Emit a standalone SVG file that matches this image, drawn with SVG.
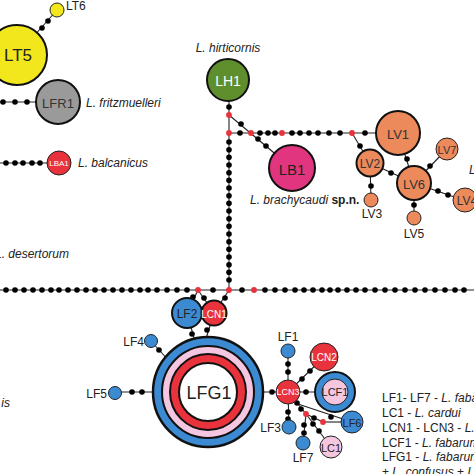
<svg xmlns="http://www.w3.org/2000/svg" width="474" height="474" viewBox="0 0 474 474">
<style>
.ln{stroke:#222;stroke-width:1.1;fill:none}
.d{fill:#000}
.r{fill:#e8323c}
.n{stroke:#111;stroke-width:2}
.s{stroke:#222;stroke-width:1}
.t{font-family:"Liberation Sans",Arial,sans-serif;text-anchor:middle;dominant-baseline:central}
.lab{font-family:"Liberation Sans",Arial,sans-serif;font-size:12px;fill:#222}
.it{font-style:italic}
.y{fill:#f2e71c}.g{fill:#9a9a9a}.rd{fill:#e8323c}.gr{fill:#5e8f2c}.mg{fill:#e2357f}.o{fill:#ec8a5c}.b{fill:#3b8ad2}.p{fill:#f5c6df}.w{fill:#fff}
</style>
<defs>
<circle id="dt" r="2.8" class="d"/>
<circle id="rt" r="2.9" class="r"/>
</defs>

<g id="connectors">
<line class="ln" x1="57" y1="10" x2="17" y2="55"/>
<line class="ln" x1="5" y1="73" x2="-4" y2="81" style="stroke:#3b8ad2"/>
<line class="ln" x1="0" y1="102" x2="40" y2="102"/>
<line class="ln" x1="0" y1="163" x2="50" y2="163"/>
<line class="ln" x1="0" y1="290" x2="474" y2="290"/>
<line class="ln" x1="229" y1="100" x2="229" y2="290"/>
<line class="ln" x1="229" y1="133" x2="378" y2="133"/>
<line class="ln" x1="229" y1="115" x2="292" y2="168"/>
<line class="ln" x1="352" y1="133" x2="370" y2="163"/>
<line class="ln" x1="370" y1="163" x2="371" y2="200"/>
<line class="ln" x1="370" y1="163" x2="414" y2="183"/>
<line class="ln" x1="398" y1="133" x2="414" y2="183"/>
<line class="ln" x1="414" y1="183" x2="447" y2="149"/>
<line class="ln" x1="414" y1="183" x2="414" y2="218"/>
<line class="ln" x1="414" y1="183" x2="463" y2="200"/>
<line class="ln" x1="198" y1="290" x2="187" y2="313"/>
<line class="ln" x1="198" y1="290" x2="214" y2="313"/>
<line class="ln" x1="229" y1="290" x2="214" y2="313"/>
<line class="ln" x1="187" y1="313" x2="196" y2="345"/>
<line class="ln" x1="214" y1="313" x2="204" y2="345"/>
<line class="ln" x1="151" y1="341" x2="170" y2="362"/>
<line class="ln" x1="115" y1="392" x2="155" y2="392"/>
<line class="ln" x1="262" y1="392" x2="335" y2="392"/>
<line class="ln" x1="288" y1="392" x2="288" y2="351"/>
<line class="ln" x1="288" y1="392" x2="324" y2="357"/>
<line class="ln" x1="288" y1="392" x2="289" y2="427"/>
<line class="ln" x1="288" y1="392" x2="306" y2="414"/>
<line class="ln" x1="306" y1="414" x2="303" y2="443"/>
<line class="ln" x1="306" y1="414" x2="331" y2="447"/>
<line class="ln" x1="306" y1="414" x2="323" y2="422"/>
<line class="ln" x1="323" y1="422" x2="352" y2="422"/>
<line class="ln" x1="298" y1="404" x2="352" y2="422"/>

<use href="#dt" x="48" y="21"/><use href="#dt" x="42" y="28"/>
<use href="#dt" x="3" y="102"/><use href="#dt" x="15" y="102"/><use href="#dt" x="27" y="102"/>
<use href="#dt" x="6" y="163"/><use href="#dt" x="15" y="163"/><use href="#dt" x="23" y="163"/><use href="#dt" x="32" y="163"/><use href="#dt" x="40" y="163"/>
<use href="#dt" x="6" y="290"/><use href="#dt" x="15" y="290"/><use href="#dt" x="24" y="290"/><use href="#dt" x="33" y="290"/><use href="#dt" x="42" y="290"/><use href="#dt" x="51" y="290"/><use href="#dt" x="59" y="290"/><use href="#dt" x="68" y="290"/><use href="#dt" x="77" y="290"/><use href="#dt" x="86" y="290"/><use href="#dt" x="95" y="290"/><use href="#dt" x="104" y="290"/><use href="#dt" x="113" y="290"/><use href="#dt" x="122" y="290"/><use href="#dt" x="131" y="290"/><use href="#dt" x="140" y="290"/><use href="#dt" x="148" y="290"/><use href="#dt" x="157" y="290"/><use href="#dt" x="167" y="290"/><use href="#dt" x="177" y="290"/><use href="#dt" x="187" y="290"/>
<use href="#rt" x="198" y="290"/>
<use href="#dt" x="213" y="290"/>
<use href="#rt" x="229" y="290"/>
<use href="#dt" x="242" y="290"/>
<use href="#rt" x="254" y="290"/>
<use href="#dt" x="265" y="290"/><use href="#dt" x="275" y="290"/><use href="#dt" x="285" y="290"/><use href="#dt" x="295" y="290"/><use href="#dt" x="304" y="290"/><use href="#dt" x="313" y="290"/><use href="#dt" x="322" y="290"/><use href="#dt" x="330" y="290"/><use href="#dt" x="338" y="290"/><use href="#dt" x="347" y="290"/><use href="#dt" x="356" y="290"/><use href="#dt" x="365" y="290"/><use href="#dt" x="375" y="290"/><use href="#dt" x="385" y="290"/><use href="#dt" x="395" y="290"/><use href="#dt" x="405" y="290"/><use href="#dt" x="415" y="290"/><use href="#dt" x="425" y="290"/><use href="#dt" x="435" y="290"/><use href="#dt" x="445" y="290"/><use href="#dt" x="455" y="290"/><use href="#dt" x="464" y="290"/>
<use href="#dt" x="229" y="107"/>
<use href="#rt" x="229" y="115"/>
<use href="#rt" x="229" y="133"/>
<use href="#dt" x="229" y="142"/><use href="#dt" x="229" y="149.7"/><use href="#dt" x="229" y="157.3"/><use href="#dt" x="229" y="165"/><use href="#dt" x="229" y="172.7"/><use href="#dt" x="229" y="180.3"/><use href="#dt" x="229" y="188"/><use href="#dt" x="229" y="195.7"/><use href="#dt" x="229" y="203.3"/><use href="#dt" x="229" y="211"/><use href="#dt" x="229" y="218.7"/><use href="#dt" x="229" y="226.3"/><use href="#dt" x="229" y="234"/><use href="#dt" x="229" y="241.7"/><use href="#dt" x="229" y="249.3"/><use href="#dt" x="229" y="257"/><use href="#dt" x="229" y="264.7"/><use href="#dt" x="229" y="272.3"/><use href="#dt" x="229" y="280"/>
<use href="#dt" x="240" y="133"/>
<use href="#rt" x="251" y="133"/>
<use href="#dt" x="260" y="133"/><use href="#dt" x="268" y="133"/><use href="#dt" x="275" y="133"/>
<use href="#rt" x="282" y="133"/>
<use href="#dt" x="292" y="133"/><use href="#dt" x="300" y="133"/><use href="#dt" x="309" y="133"/><use href="#dt" x="318" y="133"/><use href="#dt" x="329" y="133"/><use href="#dt" x="340" y="133"/>
<use href="#rt" x="352" y="133"/>
<use href="#dt" x="365" y="133"/>
<use href="#dt" x="241" y="124"/><use href="#dt" x="258" y="139"/><use href="#dt" x="266" y="146"/>
<use href="#dt" x="360" y="146"/>
<use href="#dt" x="371" y="186"/>
<use href="#dt" x="391" y="173"/>
<use href="#dt" x="407" y="159"/>
<use href="#dt" x="430" y="166"/>
<use href="#dt" x="414" y="205"/>
<use href="#dt" x="438" y="191"/><use href="#dt" x="448" y="195"/>
<use href="#dt" x="193" y="297"/>
<use href="#dt" x="204" y="298"/>
<use href="#dt" x="225" y="298"/>
<use href="#dt" x="192" y="334"/>
<use href="#dt" x="207" y="330"/>
<use href="#dt" x="159" y="350"/>
<use href="#dt" x="132" y="392"/><use href="#dt" x="142" y="392"/>
<use href="#dt" x="272" y="392"/>
<use href="#dt" x="288" y="364"/><use href="#dt" x="288" y="372"/>
<use href="#dt" x="302" y="379"/><use href="#dt" x="310" y="371"/>
<use href="#dt" x="306" y="392"/>
<use href="#dt" x="288" y="412"/><use href="#dt" x="288" y="419"/>
<use href="#dt" x="297" y="403"/><use href="#dt" x="301" y="409"/>
<use href="#dt" x="304" y="425"/><use href="#dt" x="304" y="433"/>
<use href="#dt" x="313" y="424"/><use href="#dt" x="319" y="431"/>
<use href="#dt" x="314" y="418"/>
<use href="#dt" x="331" y="417"/>
<use href="#rt" x="306" y="414"/>
<use href="#rt" x="323" y="422"/>
</g>

<g id="LT6"><circle cx="57" cy="10" r="7" class="y s"/><text class="lab" x="66" y="10">LT6</text></g>
<g id="LT5"><circle cx="17" cy="55" r="30" class="y n"/><text class="t" x="18" y="55" font-size="17" fill="#222">LT5</text></g>
<g id="LFR1"><circle cx="58" cy="102" r="22" class="g n"/><text class="t" x="58" y="103" font-size="13" fill="#333">LFR1</text><text class="lab it" x="86" y="107">L. fritzmuelleri</text></g>
<g id="LBA1"><circle cx="59" cy="163" r="12" class="rd s"/><text class="t" x="59" y="163" font-size="8" fill="#fff">LBA1</text><text class="lab it" x="78" y="167">L. balcanicus</text></g>
<g id="desertorum"><text class="lab it" x="-5" y="258">L. desertorum</text></g>
<g id="left-is"><text class="lab it" x="10" y="407" text-anchor="end">is</text></g>
<g id="LH1"><circle cx="228" cy="80" r="21" class="gr n"/><text class="t" x="228" y="81" font-size="14" fill="#fff">LH1</text><text class="lab it" x="228" y="52" text-anchor="middle">L. hirticornis</text></g>
<g id="LB1"><circle cx="292" cy="168" r="23" class="mg n"/><text class="t" x="292" y="169" font-size="15" fill="#222">LB1</text><text class="lab" x="250" y="204"><tspan class="it">L. brachycaudi</tspan> <tspan font-weight="bold">sp.n.</tspan></text></g>
<g id="LV1"><circle cx="398" cy="133" r="22" class="o n"/><text class="t" x="398" y="134" font-size="13" fill="#333">LV1</text></g>
<g id="LV2"><circle cx="370" cy="163" r="13.5" class="o n"/><text class="t" x="370" y="164" font-size="12" fill="#333">LV2</text></g>
<g id="LV3"><circle cx="371" cy="200" r="7" class="o s"/><text class="lab" x="372" y="218" text-anchor="middle">LV3</text></g>
<g id="LV6"><circle cx="414" cy="183" r="17" class="o n"/><text class="t" x="414" y="184" font-size="13" fill="#333">LV6</text></g>
<g id="LV5"><circle cx="414" cy="218" r="7" class="o s"/><text class="lab" x="414" y="238" text-anchor="middle">LV5</text></g>
<g id="LV7"><circle cx="447" cy="149" r="11" class="o s"/><text class="t" x="447" y="150" font-size="11" fill="#333">LV7</text></g>
<g id="LV4"><circle cx="465" cy="200" r="12" class="o s"/><text class="t" x="467" y="201" font-size="12" fill="#333">LV4</text></g>
<g id="volkli"><text class="lab it" x="469" y="174">L. volkli</text></g>
<g id="LF2"><circle cx="187" cy="313" r="15" class="b n"/><text class="t" x="187" y="314" font-size="12" fill="#222">LF2</text></g>
<g id="LCN1"><circle cx="214" cy="313" r="12.5" class="rd n"/><text class="t" x="214" y="314" font-size="10" fill="#fff">LCN1</text></g>
<g id="LF4"><circle cx="151" cy="341" r="6.5" class="b s"/><text class="lab" x="144" y="346" text-anchor="end">LF4</text></g>
<g id="LF5"><circle cx="115" cy="393" r="6.5" class="b s"/><text class="lab" x="107" y="398" text-anchor="end">LF5</text></g>
<g id="LFG1">
<circle cx="208" cy="392" r="55" fill="#3b8ad2" stroke="#111" stroke-width="2.5"/>
<circle cx="208" cy="392" r="46" fill="#f5c6df" stroke="#111" stroke-width="2"/>
<circle cx="208" cy="392" r="38" fill="#e8323c" stroke="#111" stroke-width="2"/>
<circle cx="208" cy="392" r="29" fill="#fff" stroke="#111" stroke-width="2"/>
<text class="t" x="209" y="393" font-size="18" fill="#222">LFG1</text>
</g>
<g id="LCN3"><circle cx="288" cy="392" r="12" class="rd s"/><text class="t" x="288" y="392" font-size="9" fill="#fff">LCN3</text></g>
<g id="LF1"><circle cx="288" cy="351" r="7" class="b s"/><text class="lab" x="288" y="341" text-anchor="middle">LF1</text></g>
<g id="LCN2"><circle cx="324" cy="357" r="14" class="rd s"/><text class="t" x="324" y="357" font-size="10" fill="#fff">LCN2</text></g>
<g id="LCF1"><circle cx="335" cy="392" r="20" class="b n"/><circle cx="335" cy="392" r="13" class="p s"/><text class="t" x="335" y="392" font-size="11" fill="#222">LCF1</text></g>
<g id="LF3"><circle cx="289" cy="427" r="7" class="b s"/><text class="lab" x="281" y="432" text-anchor="end">LF3</text></g>
<g id="LF7"><circle cx="303" cy="443" r="7" class="b s"/><text class="lab" x="303" y="462" text-anchor="middle">LF7</text></g>
<g id="LC1"><circle cx="331" cy="447" r="11" class="p s"/><text class="t" x="331" y="448" font-size="11" fill="#222">LC1</text></g>
<g id="LF6"><circle cx="352" cy="422" r="11" class="b s"/><text class="t" x="352" y="423" font-size="11" fill="#222">LF6</text></g>

<g id="legend">
<text class="lab" x="382" y="402">LF1- LF7 - <tspan class="it">L. fabarum</tspan></text>
<text class="lab" x="382" y="417">LC1 - <tspan class="it">L. cardui</tspan></text>
<text class="lab" x="382" y="432">LCN1 - LCN3 - <tspan class="it">L. cardui</tspan></text>
<text class="lab" x="382" y="447">LCF1 - <tspan class="it">L. fabarum</tspan></text>
<text class="lab" x="382" y="461">LFG1 - <tspan class="it">L. fabarum</tspan></text>
<text class="lab" x="382" y="476">+ <tspan class="it">L. confusus</tspan> + <tspan class="it">L. cardui</tspan></text>
</g>
</svg>
